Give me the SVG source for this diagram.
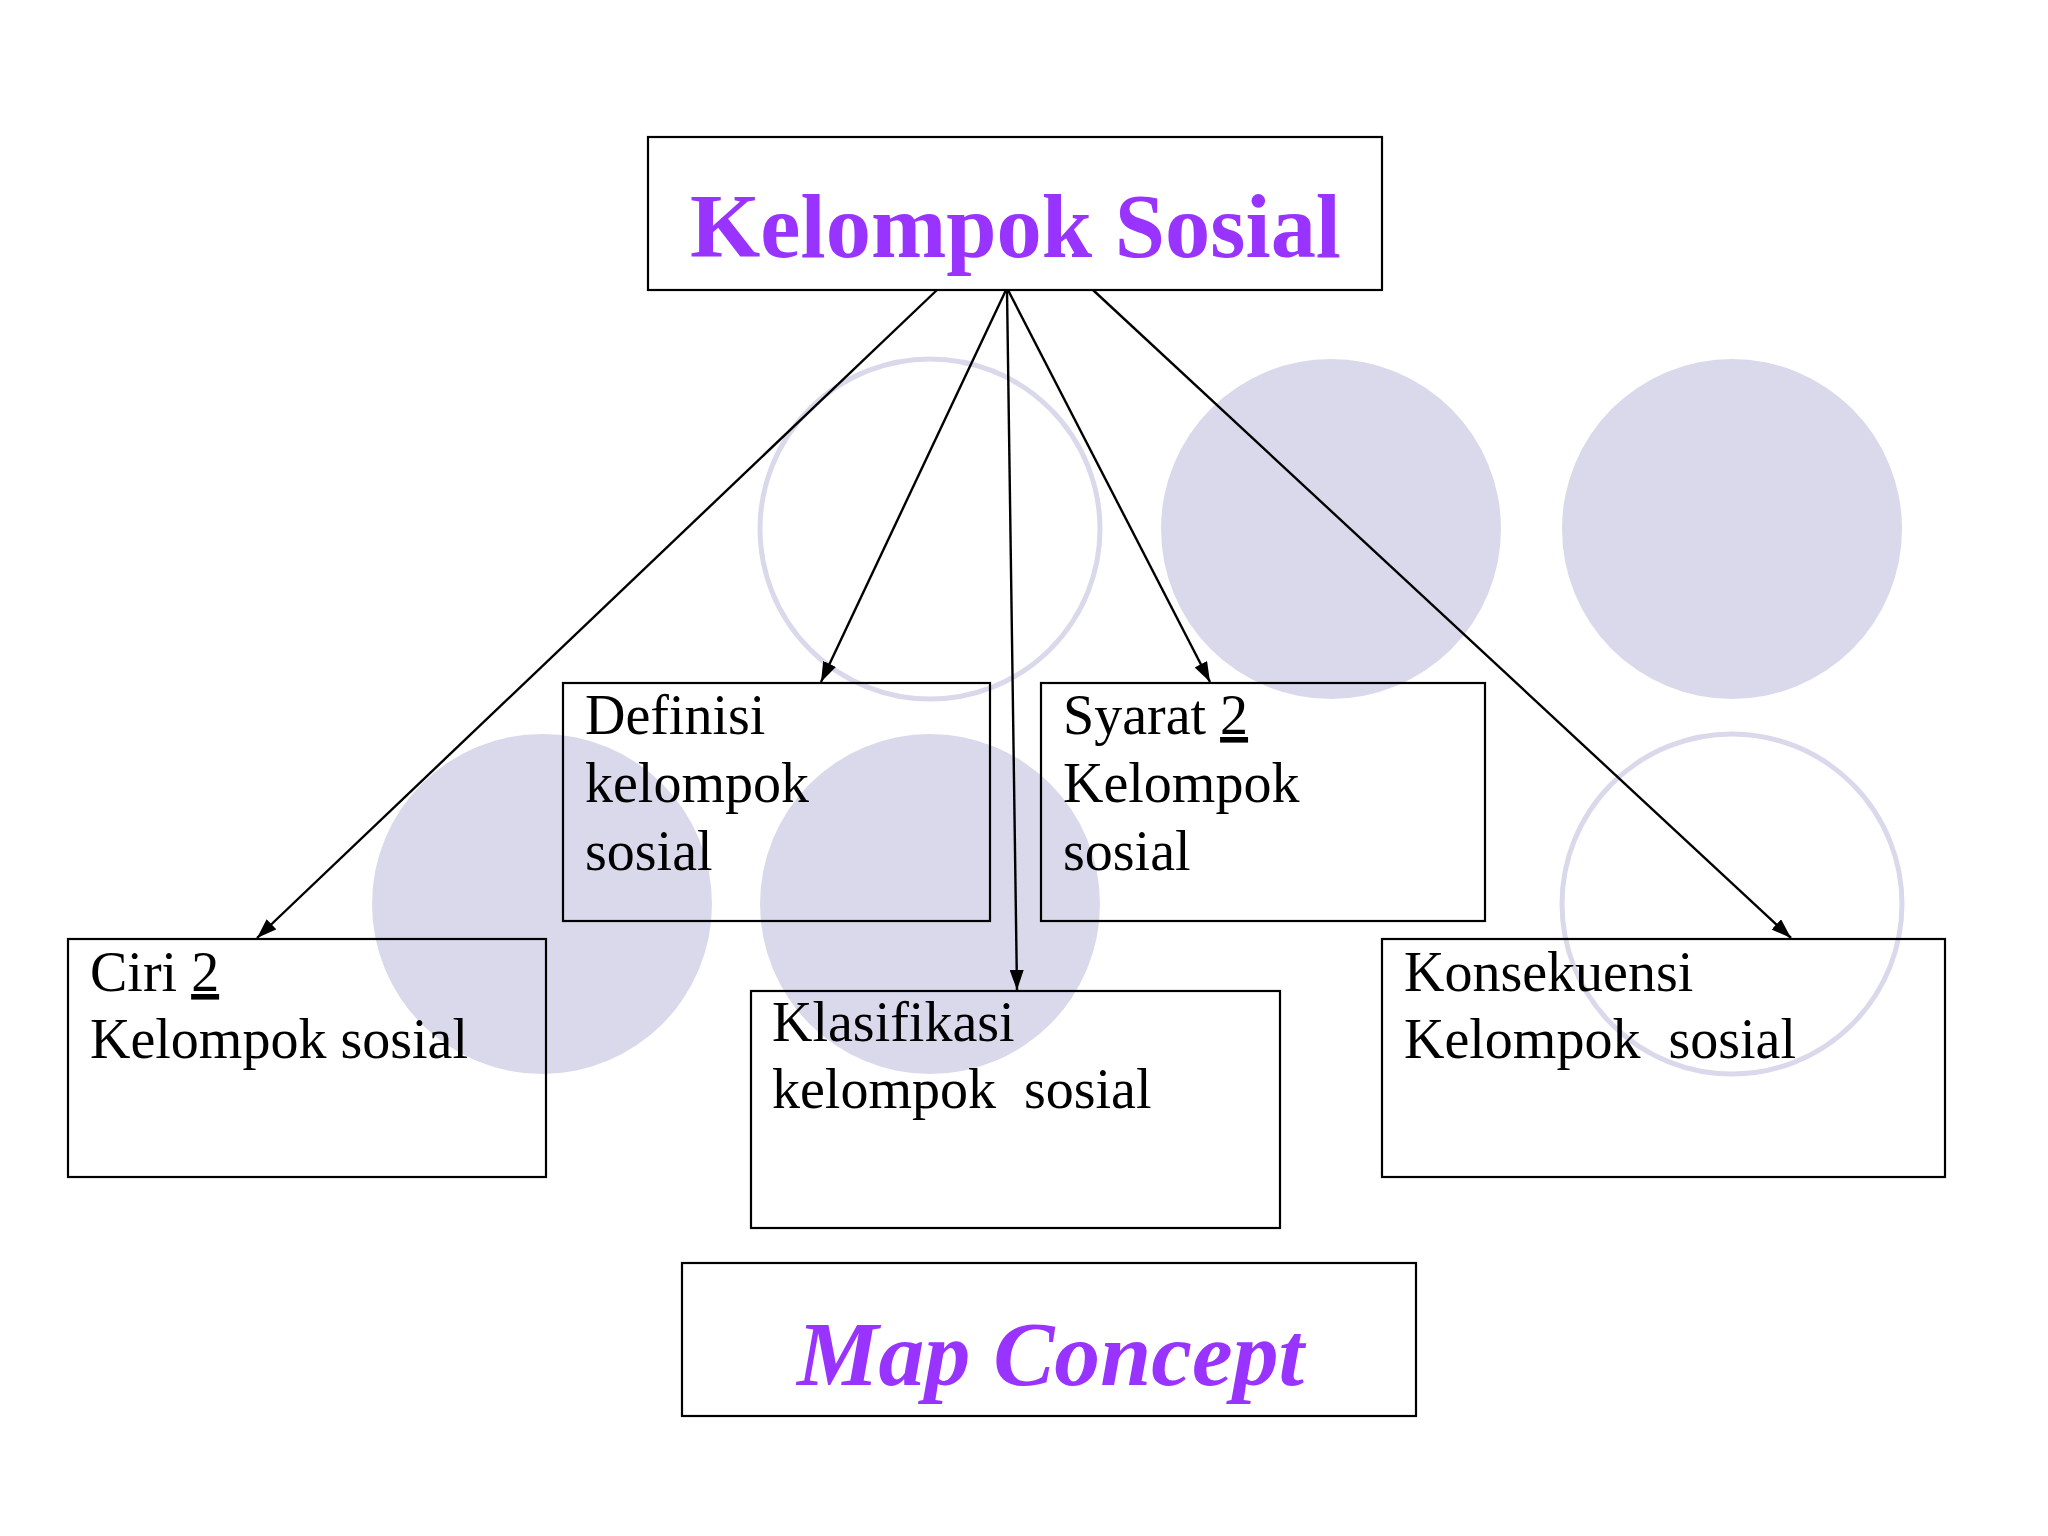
<svg xmlns="http://www.w3.org/2000/svg" width="2048" height="1536" viewBox="0 0 2048 1536">
<defs>
<style>
.bg{fill:#ffffff}
.disc{fill:#DAD9EB;stroke:none}
.ring{fill:none;stroke:#DAD9EB;stroke-width:5}
.box{fill:none;stroke:#000;stroke-width:2.2}
.lbl{font-family:"Liberation Serif","Times New Roman",serif;font-size:56px;fill:#000;white-space:pre}
.title{font-family:"Liberation Serif","Times New Roman",serif;font-weight:bold;fill:#9933FF}
.edge{stroke:#000;stroke-width:2.4;fill:none;marker-end:url(#arr)}
</style>
<marker id="arr" viewBox="0 0 20 14" refX="20" refY="7" markerWidth="20" markerHeight="14" markerUnits="userSpaceOnUse" orient="auto">
<path d="M0,0 L20,7 L0,14 z" fill="#000"/>
</marker>
</defs>
<rect class="bg" x="0" y="0" width="2048" height="1536"/>
<g id="background-circles">
<circle class="ring" cx="930" cy="529" r="170"/>
<circle class="disc" cx="1331" cy="529" r="170"/>
<circle class="disc" cx="1732" cy="529" r="170"/>
<circle class="disc" cx="542" cy="904" r="170"/>
<circle class="disc" cx="930" cy="904" r="170"/>
<circle class="ring" cx="1732" cy="904" r="170"/>
</g>
<g id="connectors">
<line class="edge" x1="937" y1="290" x2="257" y2="938"/>
<line class="edge" x1="1006" y1="290" x2="821" y2="682"/>
<line class="edge" x1="1007" y1="290" x2="1017" y2="990"/>
<line class="edge" x1="1008" y1="290" x2="1210" y2="682"/>
<line class="edge" x1="1093" y1="290" x2="1791" y2="938"/>
</g>
<g id="node-kelompok-sosial">
<rect class="box" x="648" y="137" width="734" height="153"/>
<text class="title" x="690" y="257" font-size="90" textLength="651" lengthAdjust="spacingAndGlyphs">Kelompok Sosial</text>
</g>
<g id="node-definisi">
<rect class="box" x="563" y="683" width="427" height="238"/>
<text class="lbl" x="585" y="734">Definisi</text>
<text class="lbl" x="585" y="802">kelompok</text>
<text class="lbl" x="585" y="870">sosial</text>
</g>
<g id="node-syarat">
<rect class="box" x="1041" y="683" width="444" height="238"/>
<text class="lbl" x="1063" y="734">Syarat <tspan text-decoration="underline">2</tspan></text>
<text class="lbl" x="1063" y="802">Kelompok</text>
<text class="lbl" x="1063" y="870">sosial</text>
</g>
<g id="node-ciri">
<rect class="box" x="68" y="939" width="478" height="238"/>
<text class="lbl" x="90" y="991">Ciri <tspan text-decoration="underline">2</tspan></text>
<text class="lbl" x="90" y="1058">Kelompok sosial</text>
</g>
<g id="node-klasifikasi">
<rect class="box" x="751" y="991" width="529" height="237"/>
<text class="lbl" x="772" y="1041">Klasifikasi</text>
<text class="lbl" x="772" y="1108">kelompok  sosial</text>
</g>
<g id="node-konsekuensi">
<rect class="box" x="1382" y="939" width="563" height="238"/>
<text class="lbl" x="1404" y="991">Konsekuensi</text>
<text class="lbl" x="1404" y="1058">Kelompok  sosial</text>
</g>
<g id="node-map-concept">
<rect class="box" x="682" y="1263" width="734" height="153"/>
<text class="title" x="797" y="1385" font-size="92" font-style="italic" textLength="507" lengthAdjust="spacingAndGlyphs">Map Concept</text>
</g>
</svg>
